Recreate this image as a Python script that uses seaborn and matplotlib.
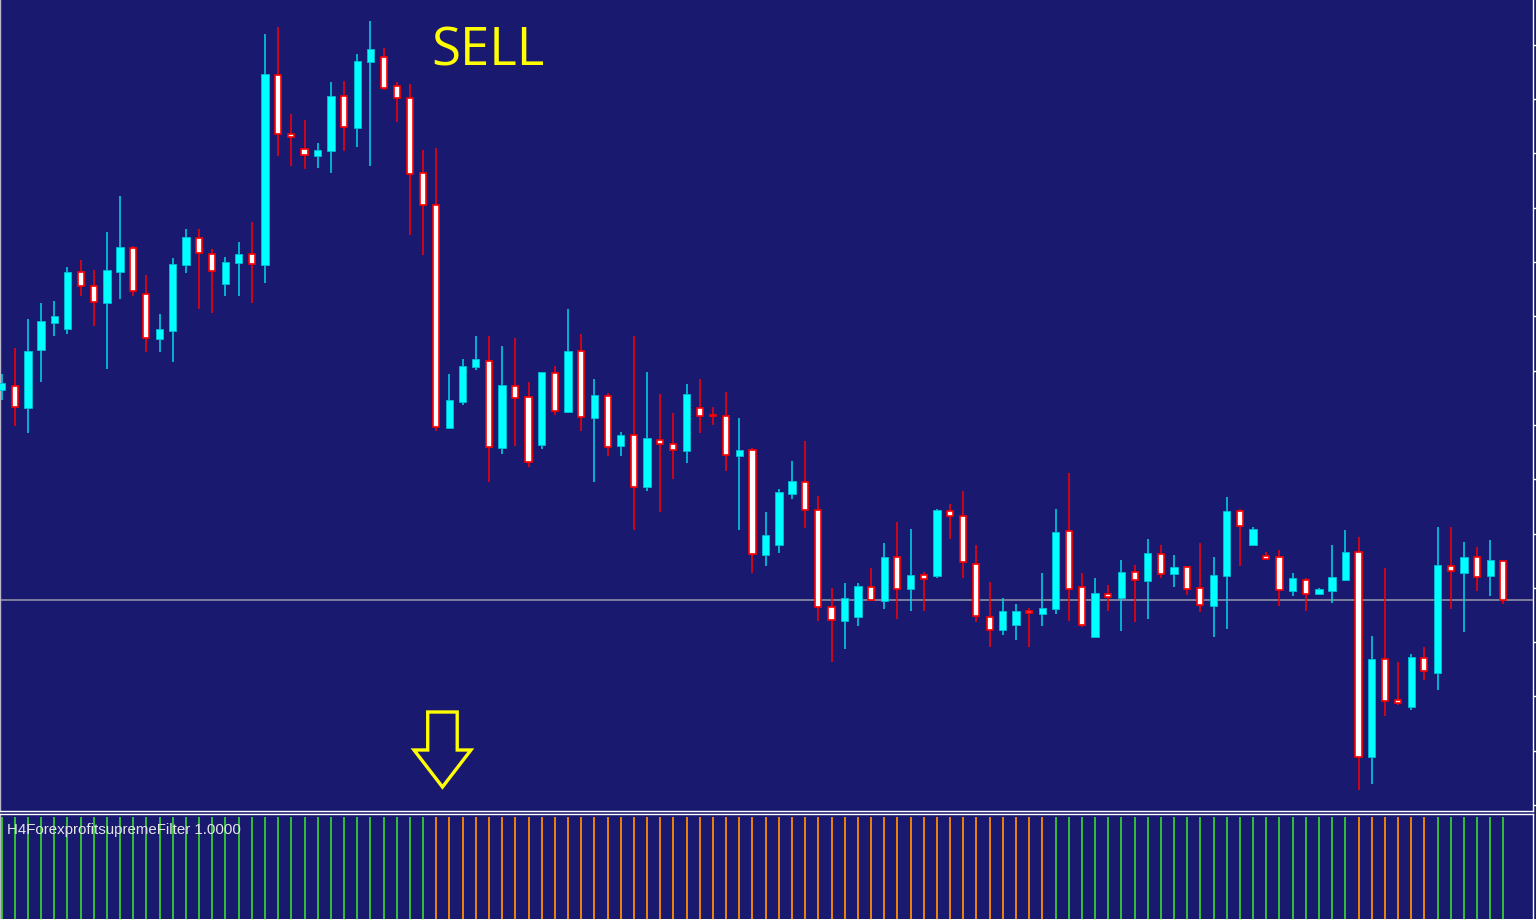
import numpy as np
import pandas as pd
import seaborn as sns
import matplotlib.pyplot as plt
from matplotlib.patches import Polygon

# H4 bars (oldest -> newest)
opens = [
    1.2610, 1.2614, 1.2592, 1.2650, 1.2677, 1.2671, 1.2728, 1.2714, 1.2697, 1.2728,
    1.2752, 1.2706, 1.2661, 1.2669, 1.2735, 1.2762, 1.2746, 1.2716, 1.2737, 1.2746,
    1.2735, 1.2925, 1.2866, 1.2851, 1.2844, 1.2849, 1.2904, 1.2872, 1.2938, 1.2943,
    1.2914, 1.2902, 1.2827, 1.2795, 1.2572, 1.2598, 1.2633, 1.2639, 1.2552, 1.2614,
    1.2603, 1.2555, 1.2627, 1.2588, 1.2649, 1.2582, 1.2604, 1.2554, 1.2565, 1.2513,
    1.2560, 1.2556, 1.2549, 1.2592, 1.2585, 1.2584, 1.2544, 1.2550, 1.2445, 1.2455,
    1.2506, 1.2518, 1.2490, 1.2393, 1.2379, 1.2383, 1.2413, 1.2399, 1.2443, 1.2411,
    1.2425, 1.2424, 1.2489, 1.2484, 1.2436, 1.2383, 1.2370, 1.2375, 1.2389, 1.2386,
    1.2391, 1.2469, 1.2413, 1.2363, 1.2406, 1.2402, 1.2428, 1.2419, 1.2446, 1.2426,
    1.2433, 1.2412, 1.2394, 1.2424, 1.2489, 1.2455, 1.2444, 1.2443, 1.2409, 1.2420,
    1.2406, 1.2409, 1.2420, 1.2448, 1.2243, 1.2341, 1.2300, 1.2293, 1.2342, 1.2327,
    1.2434, 1.2427, 1.2443, 1.2424, 1.2439,
]
highs = [
    1.2626, 1.2652, 1.2681, 1.2697, 1.2699, 1.2733, 1.2740, 1.2730, 1.2768, 1.2804,
    1.2754, 1.2725, 1.2686, 1.2742, 1.2771, 1.2771, 1.2751, 1.2743, 1.2758, 1.2778,
    1.2966, 1.2973, 1.2886, 1.2880, 1.2857, 1.2918, 1.2919, 1.2946, 1.2979, 1.2952,
    1.2918, 1.2916, 1.2850, 1.2852, 1.2626, 1.2641, 1.2664, 1.2664, 1.2654, 1.2662,
    1.2618, 1.2628, 1.2634, 1.2691, 1.2666, 1.2621, 1.2607, 1.2568, 1.2664, 1.2628,
    1.2606, 1.2587, 1.2616, 1.2621, 1.2593, 1.2608, 1.2582, 1.2552, 1.2488, 1.2511,
    1.2539, 1.2559, 1.2504, 1.2412, 1.2417, 1.2417, 1.2432, 1.2457, 1.2478, 1.2471,
    1.2428, 1.2491, 1.2496, 1.2509, 1.2455, 1.2418, 1.2402, 1.2396, 1.2392, 1.2427,
    1.2491, 1.2527, 1.2427, 1.2422, 1.2415, 1.2440, 1.2435, 1.2461, 1.2455, 1.2445,
    1.2433, 1.2457, 1.2443, 1.2503, 1.2491, 1.2473, 1.2448, 1.2450, 1.2427, 1.2422,
    1.2412, 1.2455, 1.2470, 1.2463, 1.2364, 1.2432, 1.2338, 1.2346, 1.2353, 1.2473,
    1.2473, 1.2458, 1.2453, 1.2460, 1.2439,
]
lows = [
    1.2600, 1.2574, 1.2567, 1.2618, 1.2664, 1.2666, 1.2704, 1.2674, 1.2631, 1.2701,
    1.2704, 1.2648, 1.2648, 1.2638, 1.2727, 1.2691, 1.2687, 1.2704, 1.2704, 1.2697,
    1.2717, 1.2844, 1.2834, 1.2831, 1.2832, 1.2827, 1.2849, 1.2853, 1.2834, 1.2910,
    1.2878, 1.2765, 1.2745, 1.2569, 1.2572, 1.2595, 1.2630, 1.2518, 1.2546, 1.2554,
    1.2533, 1.2551, 1.2585, 1.2587, 1.2569, 1.2518, 1.2544, 1.2544, 1.2470, 1.2509,
    1.2488, 1.2521, 1.2537, 1.2567, 1.2575, 1.2529, 1.2470, 1.2427, 1.2434, 1.2447,
    1.2501, 1.2472, 1.2379, 1.2338, 1.2351, 1.2374, 1.2400, 1.2391, 1.2381, 1.2389,
    1.2389, 1.2422, 1.2461, 1.2422, 1.2378, 1.2353, 1.2365, 1.2360, 1.2353, 1.2374,
    1.2386, 1.2379, 1.2373, 1.2363, 1.2389, 1.2369, 1.2378, 1.2381, 1.2422, 1.2413,
    1.2405, 1.2388, 1.2363, 1.2371, 1.2434, 1.2455, 1.2441, 1.2394, 1.2404, 1.2389,
    1.2406, 1.2397, 1.2419, 1.2210, 1.2216, 1.2284, 1.2295, 1.2290, 1.2320, 1.2310,
    1.2391, 1.2368, 1.2409, 1.2404, 1.2396,
]
closes = [
    1.2617, 1.2593, 1.2649, 1.2679, 1.2684, 1.2728, 1.2714, 1.2698, 1.2730, 1.2753,
    1.2709, 1.2662, 1.2671, 1.2736, 1.2763, 1.2747, 1.2729, 1.2738, 1.2746, 1.2736,
    1.2926, 1.2866, 1.2863, 1.2845, 1.2850, 1.2904, 1.2873, 1.2939, 1.2951, 1.2912,
    1.2902, 1.2826, 1.2795, 1.2573, 1.2600, 1.2634, 1.2641, 1.2553, 1.2615, 1.2602,
    1.2538, 1.2628, 1.2589, 1.2649, 1.2583, 1.2605, 1.2553, 1.2565, 1.2513, 1.2562,
    1.2556, 1.2550, 1.2606, 1.2584, 1.2584, 1.2545, 1.2550, 1.2446, 1.2465, 1.2508,
    1.2519, 1.2490, 1.2393, 1.2380, 1.2402, 1.2414, 1.2400, 1.2443, 1.2411, 1.2425,
    1.2421, 1.2490, 1.2484, 1.2438, 1.2384, 1.2370, 1.2389, 1.2389, 1.2387, 1.2392,
    1.2468, 1.2411, 1.2375, 1.2407, 1.2403, 1.2428, 1.2420, 1.2447, 1.2426, 1.2433,
    1.2411, 1.2395, 1.2425, 1.2489, 1.2474, 1.2471, 1.2441, 1.2410, 1.2422, 1.2406,
    1.2411, 1.2423, 1.2448, 1.2243, 1.2341, 1.2299, 1.2297, 1.2343, 1.2329, 1.2435,
    1.2429, 1.2443, 1.2423, 1.2440, 1.2400,
]
bid_price = 1.2400

# filter indicator: direction per bar, all histogram values at 1.0
trend = ["up"] * 33 + ["down"] * 47 + ["up"] * 23 + ["down"] * 6 + ["up"] * 6
filter_values = [1.0] * len(trend)
indicator_label = "H4ForexprofitsupremeFilter 1.0000"
signal_text = "SELL"
signal_bar = 33

# colours (MT4 style)
BG = "#191970"
BULL = "#00FFFF"
BULL_EDGE = "#00BFD8"
BEAR_EDGE = "#FF0000"
UP_COL = "#32CD32"
DOWN_COL = "#FF8C00"
YELLOW = "#FFFF00"

sns.set_theme(style="dark", rc={"axes.facecolor": BG, "figure.facecolor": BG,
                                "savefig.facecolor": BG})
plt.rcParams["font.family"] = ["DejaVu Sans"]

df = pd.DataFrame({"open": opens, "high": highs, "low": lows, "close": closes})
df["x"] = np.arange(len(df))
df["bull"] = df["close"] >= df["open"]
df["body_lo"] = df[["open", "close"]].min(axis=1)
df["body_h"] = (df["close"] - df["open"]).abs()

W, H = 1536, 919
fig = plt.figure(figsize=(W / 100, H / 100), dpi=100)
ax = fig.add_axes([0, (H - 811) / H, 1533 / W, 811 / H])
ind = fig.add_axes([0, 0, 1533 / W, 105 / H])

step = 13.175  # pixels per bar
x0 = -1.5 / step
xlim = (x0, x0 + 1533 / step)

bull = df[df["bull"]]
bear = df[~df["bull"]]

ax.axhline(bid_price, color="#9A9AAA", lw=1.1, zorder=1)
ax.vlines(bull["x"], bull["low"], bull["high"], color="#00D8EE", lw=1.1, zorder=2)
ax.vlines(bear["x"], bear["low"], bear["high"], color=BEAR_EDGE, lw=1.1, zorder=2)
ax.bar(bull["x"], bull["body_h"], bottom=bull["body_lo"], width=0.56,
       color=BULL, edgecolor=BULL_EDGE, linewidth=0.6, zorder=3)
ax.bar(bear["x"], bear["body_h"], bottom=bear["body_lo"], width=0.46,
       color="white", edgecolor=BEAR_EDGE, linewidth=1.2, zorder=3)

ax.set_xlim(*xlim)
ax.set_ylim(1.2189, 1.3000)
ax.grid(False)
ax.set_xticks([])
ax.yaxis.tick_right()
ax.set_yticks(np.arange(1.2195, 1.3000, 0.00543))
ax.tick_params(axis="y", direction="out", length=3, width=1, color="white",
               labelright=False, labelleft=False)
ax.spines["top"].set_visible(False)
ax.spines["left"].set_color("#B8B8C8")
ax.spines["bottom"].set_color("white")
ax.spines["right"].set_color("white")
for s in ["left", "bottom", "right"]:
    ax.spines[s].set_linewidth(1.0)

# SELL signal text and arrow
ax.text(signal_bar - 0.38, 1.2935, signal_text, color=YELLOW, fontsize=38,
        family=["Open Sans", "DejaVu Sans"], ha="left", va="baseline", zorder=4)
cx = signal_bar + 0.47
sw, hw = 1.12, 2.16
y_top, y_sh, y_tip = 1.2288, 1.2250, 1.2213
arrow = Polygon([(cx - sw, y_top), (cx + sw, y_top), (cx + sw, y_sh), (cx + hw, y_sh),
                 (cx, y_tip), (cx - hw, y_sh), (cx - sw, y_sh)], closed=True,
                facecolor="none", edgecolor=YELLOW, linewidth=2.4, joinstyle="miter",
                zorder=4)
ax.add_patch(arrow)

# indicator sub-window
colors = [UP_COL if t == "up" else DOWN_COL for t in trend]
ind.vlines(df["x"], 0, filter_values, colors=colors, lw=1.3)
ind.set_xlim(*xlim)
ind.set_ylim(0, 105 / 102)
ind.grid(False)
ind.set_xticks([])
ind.set_yticks([])
ind.spines["bottom"].set_visible(False)
ind.spines["top"].set_color("white")
ind.spines["right"].set_color("white")
ind.spines["left"].set_color("#B8B8C8")
for s in ["left", "top", "right"]:
    ind.spines[s].set_linewidth(1.0)

fig.text(7 / W, (H - 834) / H, indicator_label, color="#E6E6E6", fontsize=10.8,
         family=["Liberation Sans", "DejaVu Sans"], ha="left", va="baseline")

fig.savefig("out.png", dpi=100, facecolor=BG)
